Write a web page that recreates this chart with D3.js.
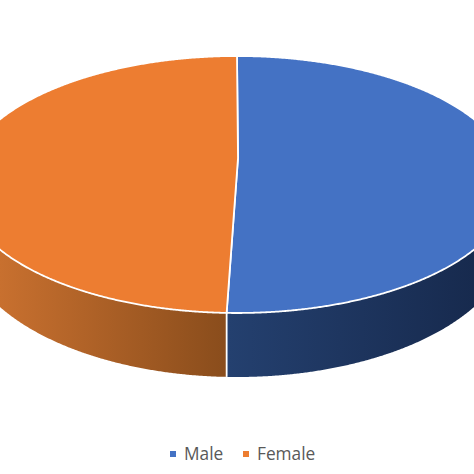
<!DOCTYPE html>
<html>
<head>
<meta charset="utf-8">
<script src="https://cdn.jsdelivr.net/npm/d3@7"></script>
<style>
html,body{margin:0;padding:0;background:#fff;}
svg{display:block;}
</style>
</head>
<body>
<div id="chart"></div>
<script>
const categories = ["Male","Female"];
const shares = [50.6,49.4];
const colors = ["#4472C4","#ED7D31"];
const sideColors = [["#24406F","#172A4E"],["#8A4D1C","#C8702F"]];

const width = 474, height = 474;
const cx = 237, cy = 184.5, rx = 275, ry = 128.5;
// perspective: hub sits above the ellipse centre, bottom rim is a flatter ellipse
const hubX = 238, hubY = 158;
const bottomCy = 235, bottomRy = 142;

const svg = d3.select("#chart").append("svg")
	.attr("width",width)
	.attr("height",height);

const pie = d3.pie().sort(null).value(d=>d.share);
const slices = pie(categories.map((c,i)=>({name:c,share:shares[i],color:colors[i],side:sideColors[i]})));

const defs = svg.append("defs");
slices.forEach((s,i)=>{
	const grad = defs.append("linearGradient")
		.attr("id","side"+i)
		.attr("gradientUnits","userSpaceOnUse")
		.attr("x1",i==0?228:0).attr("x2",i==0?474:224)
		.attr("y1",0).attr("y2",0);
	grad.append("stop").attr("offset","0%").attr("stop-color",i==0?s.data.side[0]:s.data.side[1]);
	grad.append("stop").attr("offset","100%").attr("stop-color",i==0?s.data.side[1]:s.data.side[0]);
});

const rimX = a=>cx+rx*Math.sin(a);
const rimY = a=>cy-ry*Math.cos(a);
const lowY = a=>bottomCy-bottomRy*Math.cos(a);
const steps = (a0,a1)=>d3.range(a0,a1,0.005).concat([a1]);

// side wall, only the part of each slice on the front half
const sideArea = d3.area()
	.x(rimX)
	.y0(rimY)
	.y1(lowY);

const walls = [
	[Math.PI/2,slices[0].endAngle],
	[slices[1].startAngle,Math.PI*1.5]
];
svg.selectAll(".wall")
	.data(walls)
	.enter()
	.append("path")
	.attr("class","wall")
	.attr("d",d=>sideArea(steps(d[0],d[1])))
	.attr("fill",(d,i)=>"url(#side"+i+")");

// white seam between the two walls
const seam = slices[0].endAngle;
svg.append("line")
	.attr("x1",rimX(seam))
	.attr("y1",rimY(seam))
	.attr("x2",rimX(seam))
	.attr("y2",lowY(seam))
	.attr("stroke","#fff")
	.attr("stroke-width",1.8);

// top face
const line = d3.line();
svg.append("g")
	.selectAll("path")
	.data(slices)
	.enter()
	.append("path")
	.attr("d",d=>line([[hubX,hubY]].concat(steps(d.startAngle,d.endAngle).map(a=>[rimX(a),rimY(a)])))+"Z")
	.attr("fill",d=>d.data.color)
	.attr("stroke","#fff")
	.attr("stroke-width",1.8)
	.attr("stroke-linejoin","round");

// legend
const legend = svg.append("g")
	.attr("font-family","'Open Sans', sans-serif")
	.attr("font-size",17.3)
	.attr("fill","#595959");
const legendX = [170,243];
categories.forEach((c,i)=>{
	legend.append("rect")
		.attr("x",legendX[i]).attr("y",451)
		.attr("width",6).attr("height",6)
		.attr("fill",colors[i]);
	legend.append("text")
		.attr("x",legendX[i]+14).attr("y",460)
		.text(c);
});
</script>
</body>
</html>
